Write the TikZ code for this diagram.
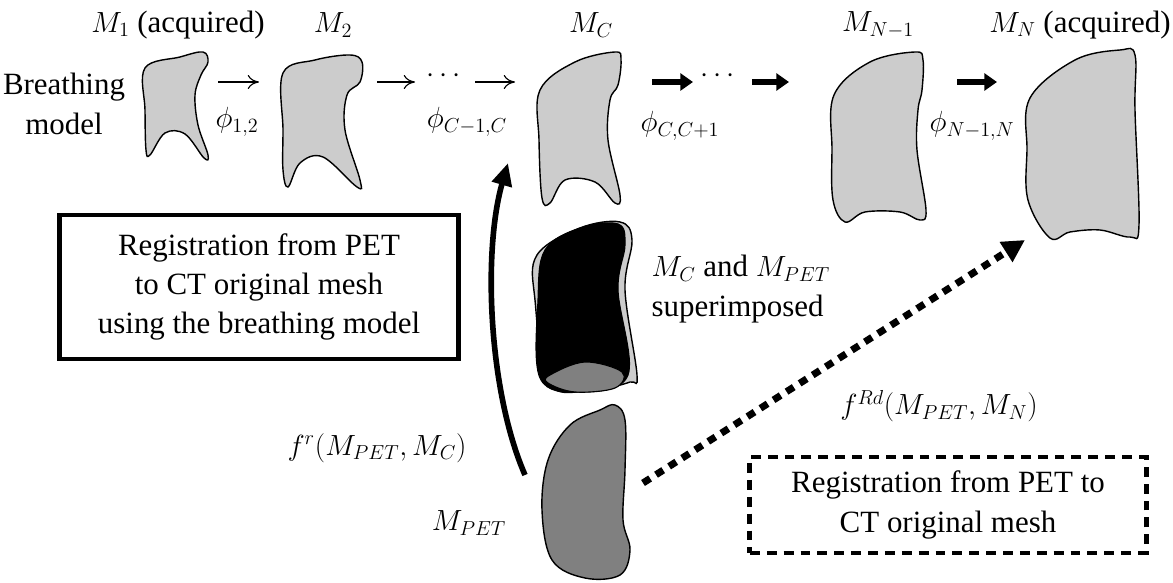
\documentclass[tikz,border=0pt]{standalone}
\usepackage{fontspec}
\setmainfont{Liberation Serif}
\usetikzlibrary{arrows.meta}
\begin{document}
\begin{tikzpicture}[x=0.025cm,y=-0.025cm,font=\fontsize{22}{28}\selectfont,
  mesh/.style={draw=black,line width=1pt,fill=black!20},
  thin/.style={-{To[length=8pt,width=10pt]},line width=0.8pt},
  thick/.style={-{Triangle[length=9pt,width=12pt]},line width=4pt},
  lbl/.style={inner sep=1pt}]
\useasboundingbox (0,0) rectangle (1173,583);
% meshes of the breathing model
\draw[mesh] plot[smooth cycle,tension=0.6] coordinates {(145,68)(180,57)(203,52)(208,62)(201,75)(195,95)(198,125)(208,155)(204,158)(185,134)(165,133)(150,155)(146,150)(145,110)};
\draw[mesh] plot[smooth cycle,tension=0.6] coordinates {(283,73)(315,60)(350,55)(362,62)(360,82)(347,95)(345,130)(360,180)(357,187)(323,157)(300,163)(288,187)(283,170)(283,130)};
\draw[mesh] plot[smooth cycle,tension=0.6] coordinates {(540,90)(575,62)(615,52)(621,60)(618,85)(610,100)(608,140)(620,195)(615,203)(595,182)(565,180)(550,203)(542,198)(539,140)};
\draw[mesh] plot[smooth cycle,tension=0.6] coordinates {(834,95)(870,62)(915,52)(923,60)(922,90)(918,110)(917,150)(926,210)(920,220)(900,212)(865,212)(845,222)(833,200)(832,150)};
\draw[mesh] plot[smooth cycle,tension=0.6] coordinates {(1030,98)(1075,60)(1120,50)(1135,55)(1135,110)(1139,225)(1130,237)(1100,230)(1070,232)(1050,238)(1028,200)(1027,150)};
% superimposed
\draw[mesh] plot[smooth cycle,tension=0.6] coordinates {(537,255)(580,228)(620,222)(632,240)(625,290)(637,375)(630,382)(600,388)(550,385)(535,300)};
\draw[draw=black,line width=0.8pt,fill=black] plot[smooth cycle,tension=0.6] coordinates {(545,250)(580,228)(618,224)(625,245)(618,290)(628,375)(580,392)(540,378)(538,300)};
\draw[draw=black,line width=0.8pt,fill=black!50] plot[smooth cycle,tension=0.6] coordinates {(550,375)(585,362)(622,372)(615,388)(575,392)(548,383)};
% PET mesh
\draw[mesh,fill=black!50] plot[smooth cycle,tension=0.6] coordinates {(548,460)(570,425)(600,410)(615,405)(625,420)(625,470)(623,520)(630,550)(620,575)(585,578)(552,560)(542,510)};
% labels
\node[lbl] (m1) at (178,25) {$M_1$ (acquired)};
\node[lbl] (m2) at (333,25) {$M_2$};
\node[lbl] (mc) at (591,25) {$M_C$};
\node[lbl] (mn1) at (878,25) {$M_{N-1}$};
\node[lbl] (mn) at (1080,25) {$M_N$ (acquired)};
\node[lbl,align=center] (bm) at (64,104) {Breathing\\model};
\node[lbl] (p12) at (237,122) {$\phi_{1,2}$};
\node[lbl] (pc1) at (467,122) {$\phi_{C-1,C}$};
\node[lbl] (pcc) at (680,126) {$\phi_{C,C+1}$};
\node[lbl] (pn) at (972,126) {$\phi_{N-1,N}$};
% arrows of the breathing model
\coordinate (a1) at (218,82); \coordinate (a2) at (259,82);
\coordinate (b1) at (377,82); \coordinate (b2) at (415,82);
\coordinate (c1) at (475,82); \coordinate (c2) at (515,82);
\coordinate (d1) at (652,82); \coordinate (d2) at (693,82);
\coordinate (e1) at (752,82); \coordinate (e2) at (789,82);
\coordinate (f1) at (957,82); \coordinate (f2) at (997,82);
\draw[thin] (a1) -- (a2);
\draw[thin] (b1) -- (b2);
\node[lbl] (dots1) at (444,76) {$\cdots$};
\draw[thin] (c1) -- (c2);
\draw[thick] (d1) -- (d2);
\node[lbl] (dots2) at (718,76) {$\cdots$};
\draw[thick] (e1) -- (e2);
\draw[thick] (f1) -- (f2);
% boxes
\node[draw,line width=3.5pt,minimum width=9.95cm,minimum height=3.6cm,align=center] (box1) at (259,287)
  {Registration from PET\\to CT original mesh\\using the breathing model};
\node[draw,line width=3.5pt,dash pattern=on 7pt off 5pt,minimum width=9.9cm,minimum height=2.4cm,align=center] (box2) at (948,505)
  {Registration from PET to\\CT original mesh};
\node[lbl,align=left,anchor=west] (sup) at (650,289) {$M_C$ and $M_{PET}$\\superimposed};
\node[lbl] (fr) at (377,448) {$f^r(M_{PET},M_C)$};
\node[lbl] (fp) at (469,523) {$M_{PET}$};
\node[lbl] (frd) at (939,406) {$f^{Rd}(M_{PET},M_N)$};
% registration arrows
\coordinate (r1) at (525,475); \coordinate (r2) at (508,163);
\coordinate (s1) at (643,483); \coordinate (s2) at (1025,240);
\draw[line width=4pt,-{Triangle[length=16pt,width=14pt]}] (r1) .. controls (488,390) and (483,250) .. (r2);
\draw[line width=5pt,dash pattern=on 6pt off 5pt,-{Triangle[length=16pt,width=16pt]}] (s1) -- (s2);
\end{tikzpicture}
\end{document}
